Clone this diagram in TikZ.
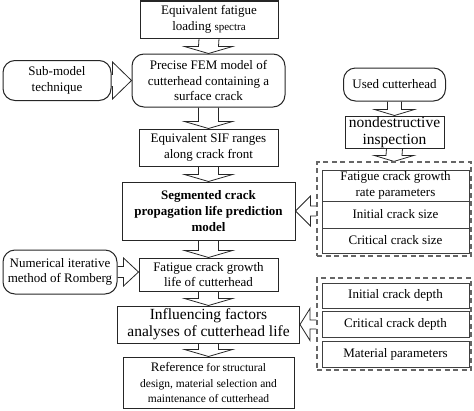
\documentclass[tikz,border=0pt]{standalone}
\usepackage{fontspec}
\setmainfont{Liberation Serif}
\usetikzlibrary{calc}
\pgfdeclarelayer{background}
\pgfsetlayers{background,main}
\newcommand\DArrow[5]{%
 \draw[barrow] ($(#1.south)+(-#3,0)$) -- ($(#2.north)+(-#3,-#5)$) -- ($(#2.north)+(-#4,-#5)$) -- (#2.north) -- ($(#2.north)+(#4,-#5)$) -- ($(#2.north)+(#3,-#5)$) -- ($(#1.south)+(#3,0)$);}
\newcommand\RArrow[5]{%
 \draw[barrow] ($(#1)+(0,-#3)$) -- ($(#2)+(-#5,-#3)$) -- ($(#2)+(-#5,-#4)$) -- (#2) -- ($(#2)+(-#5,#4)$) -- ($(#2)+(-#5,#3)$) -- ($(#1)+(0,#3)$);}
\newcommand\LArrow[5]{%
 \draw[barrow] ($(#1)+(0,-#3)$) -- ($(#2)+(#5,-#3)$) -- ($(#2)+(#5,-#4)$) -- (#2) -- ($(#2)+(#5,#4)$) -- ($(#2)+(#5,#3)$) -- ($(#1)+(0,#3)$);}
\begin{document}
\begin{tikzpicture}[x=1pt,y=-1pt,
  box/.style={draw=black!85,line width=1pt,inner sep=0pt,align=center,font=\fontsize{13}{15.5}\selectfont},
  rbox/.style={box,rounded corners=12pt},
  dbox/.style={draw=black!60,dash pattern=on 5pt off 3.5pt,line width=1.2pt,inner sep=0pt},
  ibox/.style={draw=black!75,line width=1pt,inner sep=0pt,align=center,font=\fontsize{13}{15.5}\selectfont,minimum width=147pt},
  barrow/.style={draw=black!85,line width=0.8pt,fill=white,line join=miter}
]
\useasboundingbox (0,0) rectangle (474,410);
% main column
\node[box,minimum width=138pt,minimum height=37pt] (eq) at (209,19.5) {Equivalent fatigue\\loading {\fontsize{11}{15.5}\selectfont spectra}};
\draw[black!85,line width=2.5pt] (eq.north west) -- (eq.north east);
\node[rbox,minimum width=153pt,minimum height=53pt] (fem) at (208.5,80.5) {Precise FEM model of\\cutterhead containing a\\surface crack};
\node[rbox,minimum width=108pt,minimum height=40pt] (sub) at (57,80.5) {Sub-model\\technique};
\node[box,minimum width=139pt,minimum height=37pt] (sif) at (208.5,147.5) {Equivalent SIF ranges\\along crack front};
\node[box,minimum width=173pt,minimum height=58pt,font=\fontsize{13}{16}\selectfont\bfseries] (seg) at (208.5,211) {Segmented crack\\propagation life prediction\\model};
\node[box,minimum width=139pt,minimum height=33pt] (fat) at (208.5,274.5) {Fatigue crack growth\\life of cutterhead};
\node[rbox,minimum width=114pt,minimum height=44pt] (rom) at (60,272) {Numerical iterative\\method of Romberg};
\node[box,minimum width=182pt,minimum height=37pt,font=\fontsize{15.5}{17}\selectfont] (inf) at (208.5,324.5) {Influencing factors\\analyses of cutterhead life};
\node[box,minimum width=171pt,minimum height=51pt,font=\fontsize{11.5}{15.5}\selectfont] (ref) at (208.5,382.5) {{\fontsize{13}{15.5}\selectfont Reference} for structural\\design, material selection and\\maintenance of cutterhead};
% right column
\node[rbox,minimum width=102pt,minimum height=33pt] (used) at (394.5,84.5) {Used cutterhead};
\node[box,minimum width=99pt,minimum height=32pt,font=\fontsize{15.5}{17}\selectfont] (ndi) at (394.5,132) {nondestructive\\inspection};
\node[dbox,minimum width=154pt,minimum height=94pt] (d1) at (394,209) {};
\node[ibox,minimum height=31pt] (r1) at (395.5,185.5) {Fatigue crack growth\\rate parameters};
\node[ibox,minimum height=27pt] (r2) at (395.5,214.5) {Initial crack size};
\node[ibox,minimum height=25pt] (r3) at (395.5,240.5) {Critical crack size};
\node[dbox,minimum width=154pt,minimum height=92pt] (d2) at (394,324) {};
\node[ibox,minimum height=25pt] (r4) at (395.5,295.5) {Initial crack depth};
\node[ibox,minimum height=26pt] (r5) at (395.5,324) {Critical crack depth};
\node[ibox,minimum height=26pt] (r6) at (395.5,354) {Material parameters};
\coordinate (t1) at (fat.west |- rom.east);
\coordinate (t2) at (d1.west |- seg.east);
\coordinate (t3) at (d2.west |- inf.east);
\begin{pgfonlayer}{background}
\DArrow{eq}{fem}{10}{24}{7}
\DArrow{fem}{sif}{10}{24}{7}
\DArrow{sif}{seg}{10}{24}{7}
\DArrow{seg}{fat}{10}{24}{7}
\DArrow{fat}{inf}{10}{24}{7}
\DArrow{inf}{ref}{10}{24}{7}
\DArrow{used}{ndi}{7}{20}{6}
\DArrow{ndi}{d1}{8}{20}{6}
\RArrow{sub.east}{fem.west}{6}{18.5}{19}
\RArrow{rom.east}{t1}{5.5}{14}{15}
\LArrow{t2}{seg.east}{5}{15}{15}
\LArrow{t3}{inf.east}{4.5}{16}{10}
\end{pgfonlayer}
\end{tikzpicture}
\end{document}
